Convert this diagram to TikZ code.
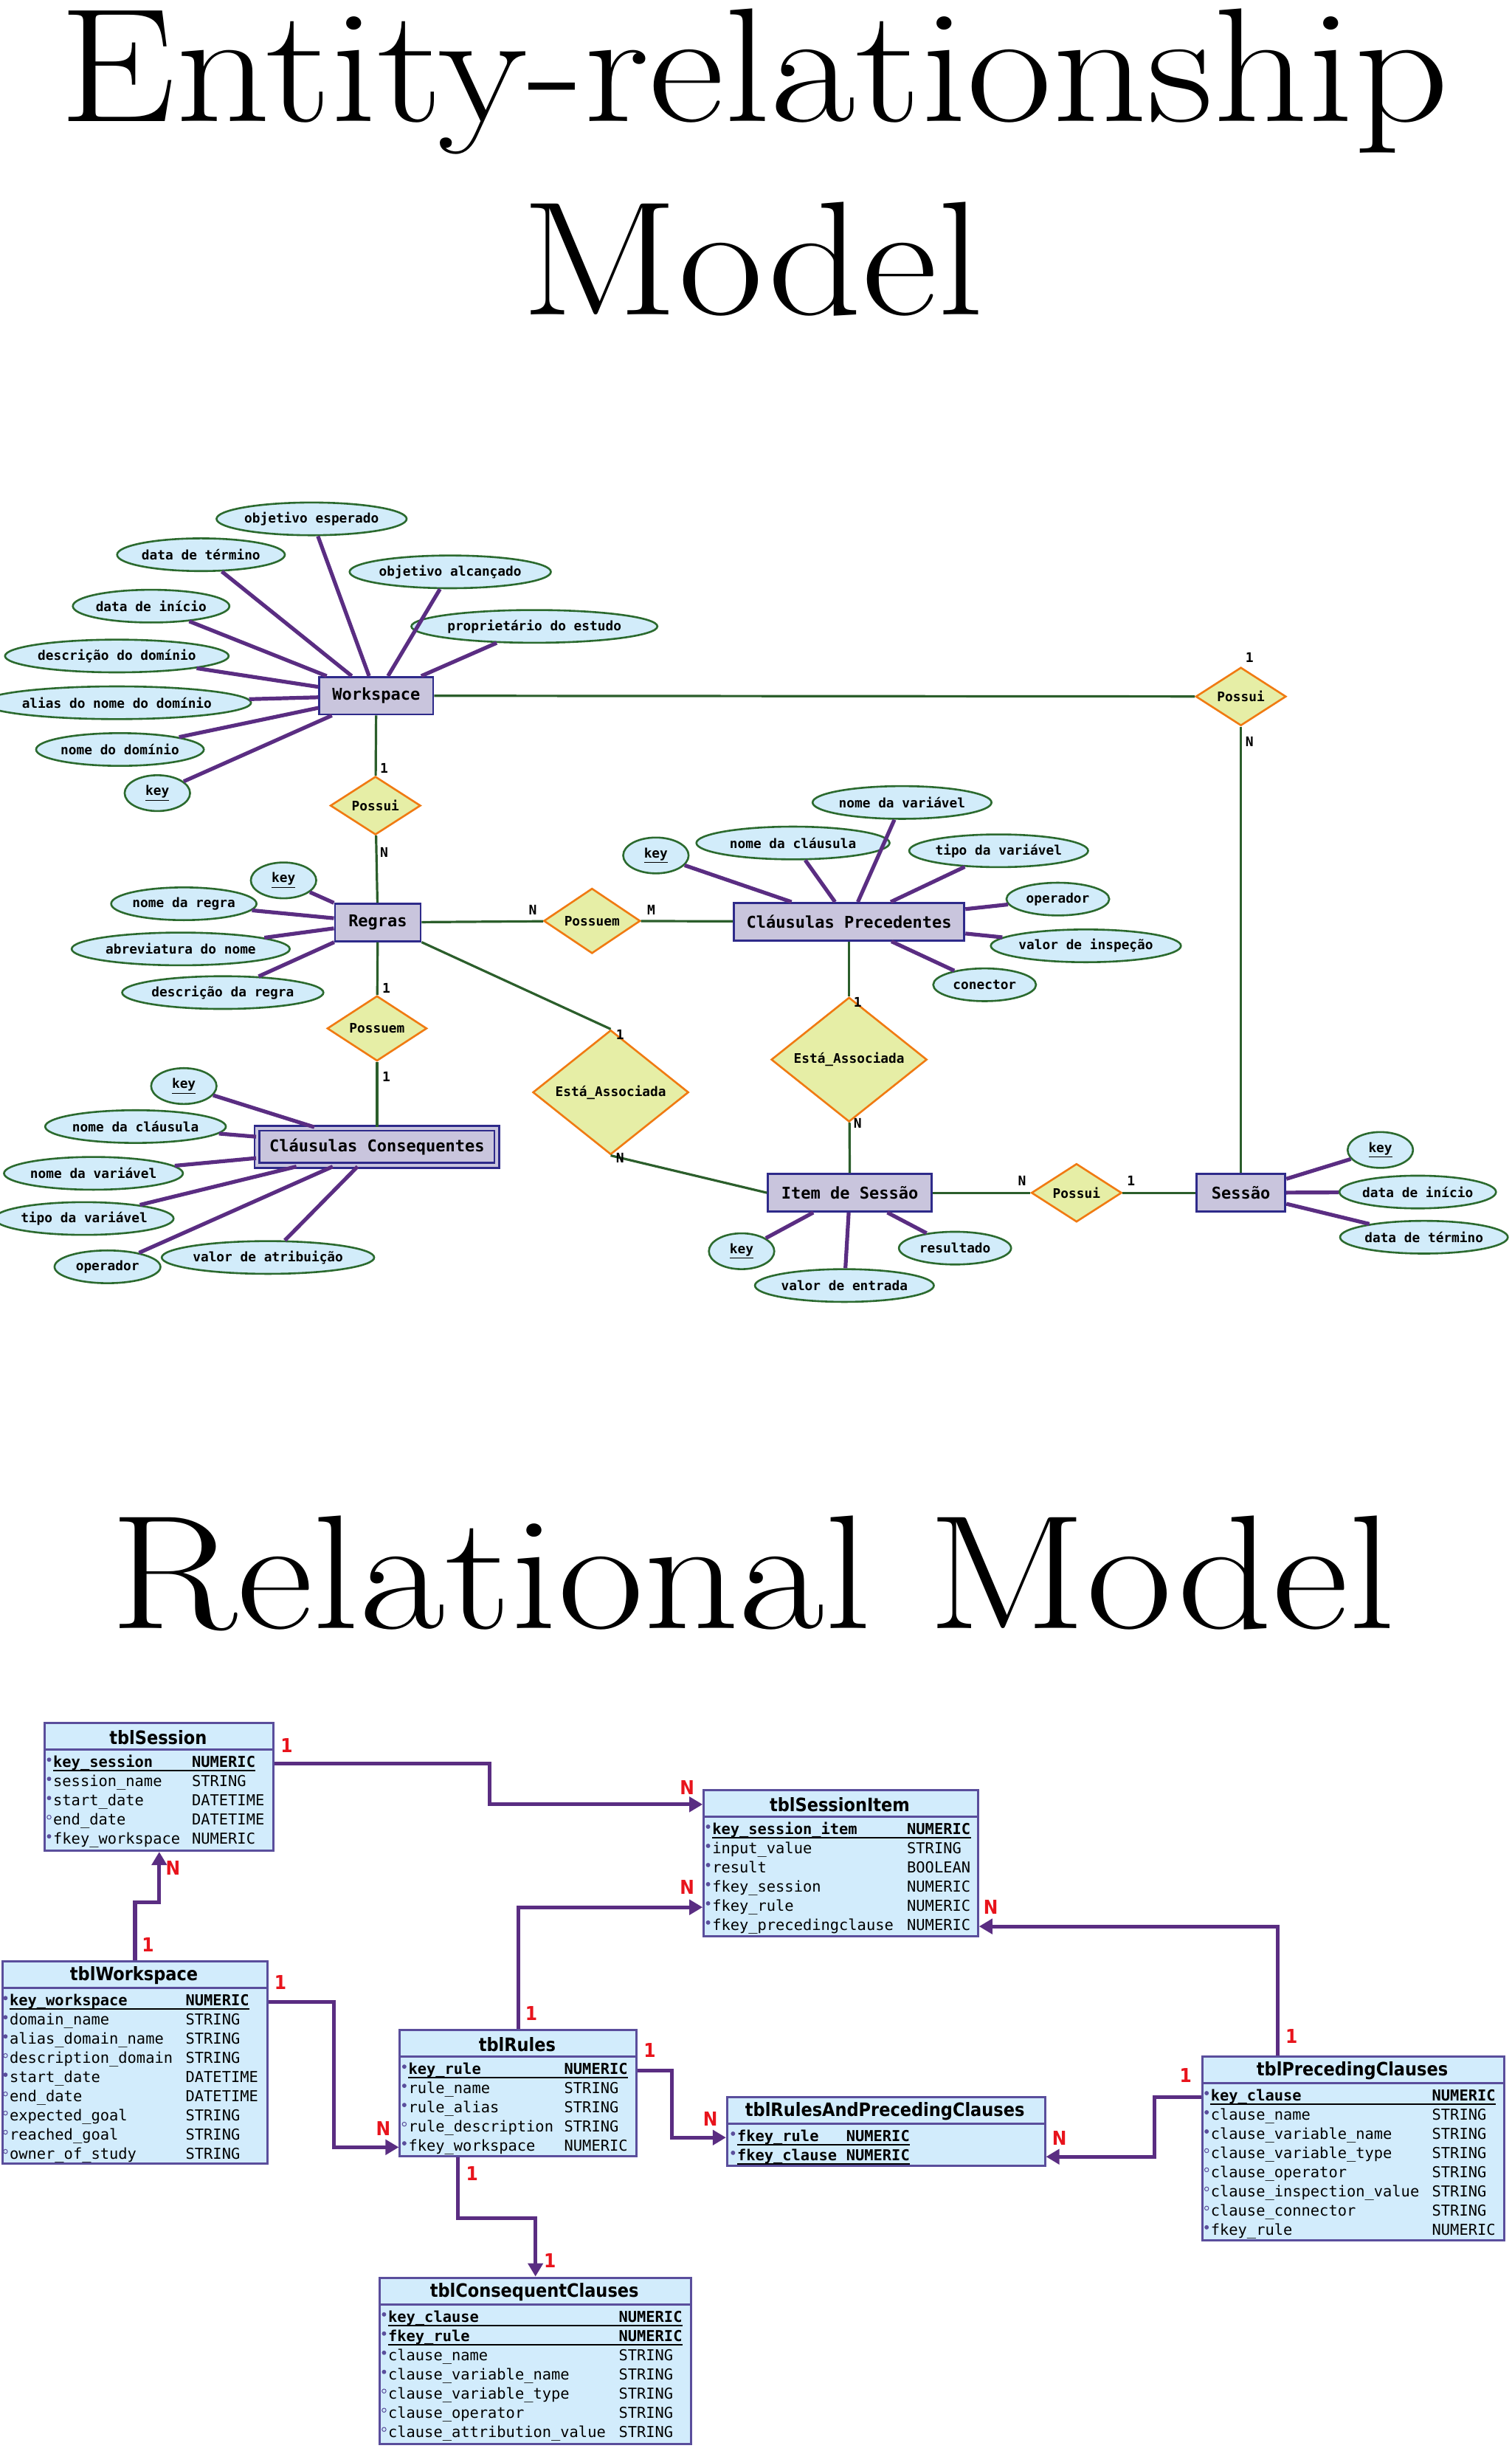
\documentclass[tikz,border=0pt]{standalone}
\usepackage{fontspec}
\usetikzlibrary{shapes.geometric,arrows.meta}
\newfontfamily\mono{DejaVu Sans Mono}
\newfontfamily\cond{DejaVu Sans Condensed}
\def\ux{1.0557pt}
\def\pk{p}
\def\po{o}
\definecolor{entfill}{HTML}{C9C5DD}
\definecolor{entdraw}{HTML}{2E2A8A}
\definecolor{ellfill}{HTML}{D2ECFA}
\definecolor{elldraw}{HTML}{2B6A2E}
\definecolor{diafill}{HTML}{E6EEA6}
\definecolor{diadraw}{HTML}{F07A12}
\definecolor{relline}{HTML}{2B5E2B}
\definecolor{attrline}{HTML}{5A2D82}
\definecolor{tfill}{HTML}{D2ECFC}
\definecolor{tdraw}{HTML}{5A4E9C}
\definecolor{cardred}{HTML}{E8141C}
\tikzset{
  ent/.style={rectangle,draw=entdraw,fill=entfill,line width=1.4pt,minimum height=24*\ux,inner sep=0pt,font=\mono\bfseries\fontsize{11}{13}\selectfont},
  att/.style={ellipse,draw=elldraw,fill=ellfill,line width=1.3pt,minimum height=21*\ux,inner sep=0pt,font=\mono\bfseries\fontsize{8.9}{10}\selectfont},
  rel/.style={diamond,draw=diadraw,fill=diafill,line width=1.3pt,inner sep=0pt,font=\mono\bfseries\fontsize{8.9}{10}\selectfont},
  attr/.style={draw=attrline,line width=2.6pt},
  rl/.style={draw=relline,line width=1.6pt},
  crd/.style={font=\mono\bfseries\fontsize{9}{10}\selectfont,inner sep=0pt},
  tbox/.style={draw=tdraw,line width=1.5pt,inner sep=0pt},
  ttitle/.style={font=\cond\bfseries\fontsize{12.5}{14}\selectfont,inner sep=0pt},
  rowtxt/.style={font=\mono\fontsize{10.2}{12}\selectfont,inner sep=0pt,text height=7.3pt,text depth=2pt},
  conn/.style={draw=attrline,line width=2.6pt,-{Triangle[length=9pt,width=10pt]}},
  card/.style={text=cardred,font=\cond\bfseries\fontsize{13}{14}\selectfont,inner sep=0pt},
  ttl/.style={font=\fontsize{110}{120}\selectfont,inner sep=0pt,anchor=base}
}
\newcommand\mktable[9]{%
  \fill[tfill] (#2,#3) rectangle (#4,#5);
  \node[tbox,anchor=north west,minimum width={(#4-#2)*\ux},minimum height={(#5-#3)*\ux}] (#1) at (#2,#3) {};
  \draw[draw=tdraw,line width=1.5pt] (#2,#3+18) -- (#4,#3+18);
  \node[ttitle] (#1-t) at ({(#2+#4)/2},#3+10) {#6};
  \foreach \k/\n/\t [count=\i] in {#9}{
    \pgfmathsetmacro\yy{#3+18+8.8+(\i-1)*12.3}
    \node[rowtxt,anchor=west] (#1-r\i) at (#7,\yy) {\ifx\k\pk\bfseries\fi\n};
    \node[rowtxt,anchor=west] (#1-y\i) at (#8,\yy) {\ifx\k\pk\bfseries\fi\t};
    \ifx\k\pk\draw[line width=0.9pt] (#1-r\i.south west) -- (#1-y\i.south east);\fi
    \ifx\k\po\draw[tdraw,line width=0.5pt] (#7-2.5,\yy-2.5) circle (1.3);\else\fill[tdraw] (#7-2.5,\yy-2.5) circle (1.4);\fi
  }
}
\begin{document}
\begin{tikzpicture}[x=1.0557pt,y=-1.0557pt]
\useasboundingbox (0,0) rectangle (970.1,1574.9);
% titles
\node[ttl] (t1) at (484,78) {\scalebox{1.14}[1]{Entity-relationship}};
\node[ttl] (t2) at (483,202) {\scalebox{1.14}[1]{Model}};
\node[ttl] (t3) at (483,1045) {\scalebox{1.15}[1]{Relational Model}};

% ===== ER =====
\node[ent,minimum width=73*\ux] (ws) at (241.5,446.5) {Workspace};
\node[att,minimum width=115*\ux] (w1) at (200,333) {objetivo esperado};
\node[att,minimum width=104*\ux] (w2) at (129,356) {data de término};
\node[att,minimum width=118*\ux] (w3) at (289,367) {objetivo alcançado};
\node[att,minimum width=98*\ux] (w4) at (97,389) {data de início};
\node[att,minimum width=138*\ux] (w5) at (343,402) {proprietário do estudo};
\node[att,minimum width=118*\ux] (w6) at (75,421) {descrição do domínio};
\node[att,minimum width=148*\ux] (w7) at (75,451) {alias do nome do domínio};
\node[att,minimum width=102*\ux] (w8) at (77,481) {nome do domínio};
\node[att,minimum width=42*\ux,minimum height=23*\ux] (w9) at (101,509) {\underline{key}};
\foreach \a in {w1,w2,w3,w4,w5,w6,w7,w8,w9} \draw[attr] (\a) -- (ws);

\node[rel,minimum width=58*\ux,minimum height=34*\ux] (d1) at (241,517) {Possui};
\node[ent,minimum width=55*\ux] (rg) at (242.5,592) {Regras};
\node[att,minimum width=42*\ux,minimum height=23*\ux] (r1) at (182,565) {\underline{key}};
\node[att,minimum width=92*\ux] (r2) at (118,580) {nome da regra};
\node[att,minimum width=140*\ux] (r3) at (116,609) {abreviatura do nome};
\node[att,minimum width=120*\ux] (r4) at (143,637) {descrição da regra};
\foreach \a in {r1,r2,r3,r4} \draw[attr] (\a) -- (rg);

\node[rel,minimum width=62*\ux,minimum height=36*\ux] (d2) at (380,591) {Possuem};
\node[ent,minimum width=148*\ux] (cp) at (545,591.5) {Cláusulas Precedentes};
\node[att,minimum width=42*\ux,minimum height=23*\ux] (p1) at (421,549) {\underline{key}};
\node[att,minimum width=124*\ux] (p2) at (509,541) {nome da cláusula};
\node[att,minimum width=108*\ux] (p3) at (579,515) {nome da variável};
\node[att,minimum width=108*\ux] (p4) at (641,546) {tipo da variável};
\node[att,minimum width=66*\ux] (p5) at (679,577) {operador};
\node[att,minimum width=112*\ux] (p6) at (697,607) {valor de inspeção};
\node[att,minimum width=66*\ux] (p7) at (632,632) {conector};
\foreach \a in {p1,p2,p3,p4,p5,p6,p7} \draw[attr] (\a) -- (cp);

\node[rel,minimum width=64*\ux,minimum height=34*\ux] (d3) at (242,660) {Possuem};
\node[ent,minimum width=154*\ux,double=entfill,double distance=2pt,draw=entdraw] (cc) at (242,736) {Cláusulas Consequentes};
\node[att,minimum width=42*\ux,minimum height=23*\ux] (c1) at (118,697) {\underline{key}};
\node[att,minimum width=116*\ux] (c2) at (87,723) {nome da cláusula};
\node[att,minimum width=114*\ux] (c3) at (60,753) {nome da variável};
\node[att,minimum width=114*\ux] (c4) at (54,782) {tipo da variável};
\node[att,minimum width=68*\ux] (c5) at (69,813) {operador};
\node[att,minimum width=124*\ux] (c6) at (172,807) {valor de atribuição};
\foreach \a in {c1,c2,c3,c4,c5,c6} \draw[attr] (\a) -- (cc);

\node[rel,minimum width=100*\ux,minimum height=60*\ux] (d4) at (392,701) {Está\_Associada};
\node[rel,minimum width=100*\ux,minimum height=60*\ux] (d5) at (545,680) {Está\_Associada};
\node[ent,minimum width=105*\ux] (it) at (545.5,765.5) {Item de Sessão};
\node[att,minimum width=42*\ux,minimum height=23*\ux] (i1) at (476,803) {\underline{key}};
\node[att,minimum width=108*\ux] (i2) at (542,825) {valor de entrada};
\node[att,minimum width=72*\ux] (i3) at (613,801) {resultado};
\foreach \a in {i1,i2,i3} \draw[attr] (\a) -- (it);

\node[rel,minimum width=58*\ux,minimum height=34*\ux] (d6) at (691,765.5) {Possui};
\node[ent,minimum width=57*\ux] (se) at (796.5,765.5) {Sessão};
\node[att,minimum width=42*\ux,minimum height=23*\ux] (s1) at (886,738) {\underline{key}};
\node[att,minimum width=98*\ux] (s2) at (910,765) {data de início};
\node[att,minimum width=104*\ux] (s3) at (914,794) {data de término};
\foreach \a in {s1,s2,s3} \draw[attr] (\a) -- (se);

\node[rel,minimum width=58*\ux,minimum height=34*\ux] (d7) at (796.5,447) {Possui};

\draw[rl] (ws) -- (d1); \draw[rl] (d1) -- (rg);
\draw[rl] (rg) -- (d2); \draw[rl] (d2) -- (cp);
\draw[rl] (rg) -- (d3); \draw[rl] (d3) -- (cc);
\draw[rl] (rg.south east) -- (d4.north); \draw[rl] (d4.south) -- (it.west);
\draw[rl] (cp) -- (d5); \draw[rl] (d5) -- (it);
\draw[rl] (it) -- (d6); \draw[rl] (d6) -- (se);
\draw[rl] (ws) -- (d7); \draw[rl] (d7) -- (se);

\node[crd] (k1) at (246.5,493) {1};
\node[crd] (k2) at (246.5,547) {N};
\node[crd] (k3) at (342,584) {N};
\node[crd] (k4) at (418,584) {M};
\node[crd] (k5) at (248,634) {1};
\node[crd] (k6) at (248,691) {1};
\node[crd] (k7) at (398,664) {1};
\node[crd] (k8) at (398,743) {N};
\node[crd] (k9) at (550.5,643) {1};
\node[crd] (k10) at (550.5,721) {N};
\node[crd] (k11) at (656,758) {N};
\node[crd] (k12) at (726,758) {1};
\node[crd] (k13) at (802,422) {1};
\node[crd] (k14) at (802,476) {N};

% ===== Relational =====
\mktable{tS}{28}{1105}{175}{1187}{tblSession}{34}{123}{p/key\_session/NUMERIC,r/session\_name/STRING,r/start\_date/DATETIME,o/end\_date/DATETIME,r/fkey\_workspace/NUMERIC}
\mktable{tSI}{451}{1148}{627}{1242}{tblSessionItem}{457}{582}{p/key\_session\_item/NUMERIC,r/input\_value/STRING,r/result/BOOLEAN,r/fkey\_session/NUMERIC,r/fkey\_rule/NUMERIC,r/fkey\_precedingclause/NUMERIC}
\mktable{tW}{1}{1258}{171}{1388}{tblWorkspace}{6}{119}{p/key\_workspace/NUMERIC,r/domain\_name/STRING,r/alias\_domain\_name/STRING,o/description\_domain/STRING,r/start\_date/DATETIME,o/end\_date/DATETIME,o/expected\_goal/STRING,o/reached\_goal/STRING,o/owner\_of\_study/STRING}
\mktable{tR}{256}{1302}{408}{1383}{tblRules}{262}{362}{p/key\_rule/NUMERIC,r/rule\_name/STRING,r/rule\_alias/STRING,o/rule\_description/STRING,r/fkey\_workspace/NUMERIC}
\mktable{tRP}{466}{1345}{670}{1389}{tblRulesAndPrecedingClauses}{473}{543}{p/fkey\_rule/NUMERIC,p/fkey\_clause/NUMERIC}
\mktable{tPC}{771}{1319}{965}{1437}{tblPrecedingClauses}{777}{919}{p/key\_clause/NUMERIC,r/clause\_name/STRING,r/clause\_variable\_name/STRING,o/clause\_variable\_type/STRING,o/clause\_operator/STRING,o/clause\_inspection\_value/STRING,o/clause\_connector/STRING,r/fkey\_rule/NUMERIC}
\mktable{tCC}{243}{1461}{443}{1568}{tblConsequentClauses}{249}{397}{p/key\_clause/NUMERIC,p/fkey\_rule/NUMERIC,r/clause\_name/STRING,r/clause\_variable\_name/STRING,o/clause\_variable\_type/STRING,o/clause\_operator/STRING,o/clause\_attribution\_value/STRING}

\draw[conn] (tS-r1 -| tS.east) -- ++(138,0) |- (tSI-t -| tSI.west);
\draw[conn] (tW.north) -- ++(0,-37) -| (tS.south);
\draw[conn] (tW-r1 -| tW.east) -- ++(42,0) |- (tR-r5 -| tR.west);
\draw[conn] (tR.north) |- (tSI-r5 -| tSI.west);
\draw[conn] (tR-r1 -| tR.east) -- ++(22,0) |- (tRP-r1 -| tRP.west);
\draw[conn] ([xshift=49*1.0557pt]tPC.north west) |- (tSI-r6 -| tSI.east);
\draw[conn] (tPC-r1 -| tPC.west) -- ++(-30,0) |- (tRP-r2 -| tRP.east);
\draw[conn] ([xshift=38*1.0557pt]tR.south west) -- ++(0,39) -| (tCC.north);

\node[card] (n1) at (184,1120) {1};
\node[card] (n2) at (441,1147) {N};
\node[card] (n3) at (95,1248) {1};
\node[card] (n4) at (111,1199) {N};
\node[card] (n5) at (180,1272) {1};
\node[card] (n6) at (246,1366) {N};
\node[card] (n7) at (341,1292) {1};
\node[card] (n8) at (441,1211) {N};
\node[card] (n9) at (417,1316) {1};
\node[card] (n10) at (456,1360) {N};
\node[card] (n11) at (829,1307) {1};
\node[card] (n12) at (636,1224) {N};
\node[card] (n13) at (761,1332) {1};
\node[card] (n14) at (680,1372) {N};
\node[card] (n15) at (303,1395) {1};
\node[card] (n16) at (353,1451) {1};
\end{tikzpicture}
\end{document}
